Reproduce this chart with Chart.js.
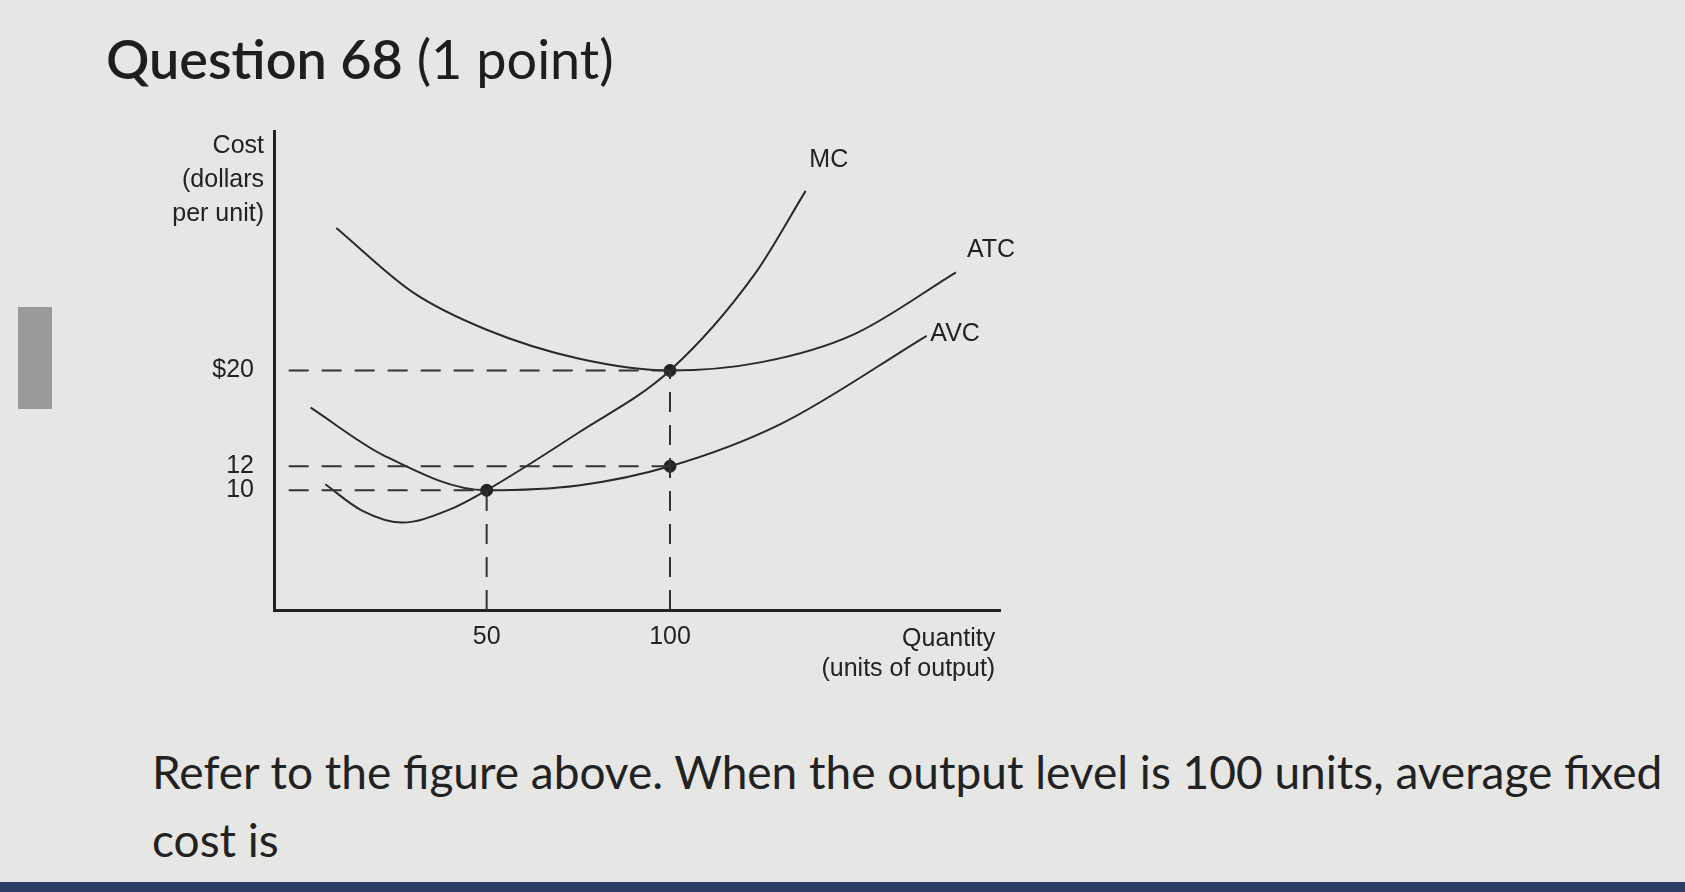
<!DOCTYPE html>
<html>
<head>
<meta charset="utf-8">
<script src="https://cdn.jsdelivr.net/npm/chart.js@4.4.1/dist/chart.umd.min.js"></script>
<style>
  body { margin: 0; width: 1685px; height: 892px; background: #e6e6e4; font-family: Lato, "Open Sans", sans-serif; overflow: hidden; position: relative; }
  #title { position: absolute; left: 106px; top: 26px; font-size: 54px; color: #1e1e1e; }
  #title span { font-weight: normal; }
  #wrap { position: absolute; left: 140px; top: 104px; width: 880px; height: 630px; }
  #q { position: absolute; left: 152px; top: 738px; font-size: 46px; color: #222; line-height: 68px; white-space: nowrap; }
  #bar { position: absolute; left: 18px; top: 307px; width: 34px; height: 102px; background: #9a9a9a; }
  #bottom { position: absolute; left: 0; top: 882px; width: 1685px; height: 10px; background: #2c3e66; }
</style>
</head>
<body>
<div id="title"><b style="font-weight:600">Question 68</b> <span>(1 point)</span></div>
<div id="bar"></div>
<div id="wrap"><canvas id="costChart"></canvas></div>
<div id="q">Refer to the figure above. When the output level is 100 units, average fixed<br>cost is</div>
<div id="bottom"></div>
<script>
// curve values (quantity, dollars)
const atcQ = [9, 30, 50, 75, 100, 125, 150, 178];
const atcY = [31.9, 26.5, 23.4, 21.0, 20.0, 20.7, 23.0, 28.2];
const avcQ = [2, 22, 50, 75, 100, 130, 170];
const avcY = [16.9, 12.9, 10.0, 10.4, 12.0, 15.5, 22.9];
const mcQ = [6, 16, 27, 40, 50, 75, 100, 123, 137];
const mcY = [10.5, 8.3, 7.3, 8.4, 10.0, 14.8, 20.0, 28.0, 35.0];
const yTicks = [10, 12, 20];
const xTicks = [50, 100];
const dots = [[50, 10], [100, 20], [100, 12]];

const toPts = (xs, ys) => xs.map((x, i) => ({ x: x, y: ys[i] }));
const dash = (pts) => ({ data: pts, borderColor: '#333', borderWidth: 2, borderDash: [20, 13], pointRadius: 0, showLine: true, tension: 0 });
const curve = (pts) => ({ data: pts, borderColor: '#2a2a2a', borderWidth: 2, pointRadius: 0, showLine: true, tension: 0.4, cubicInterpolationMode: 'monotone' });

const labelPlugin = {
  id: 'labels',
  afterDraw(chart) {
    const c = chart.ctx, xs = chart.scales.x, ys = chart.scales.y;
    c.save();
    c.fillStyle = '#222';
    c.font = '25px Arial, "Liberation Sans", sans-serif';
    c.textAlign = 'left';
    c.fillText('MC', xs.getPixelForValue(138), ys.getPixelForValue(37));
    c.fillText('ATC', xs.getPixelForValue(181), ys.getPixelForValue(29.5));
    c.fillText('AVC', xs.getPixelForValue(171), ys.getPixelForValue(22.5));
    c.textAlign = 'right';
    const ax = xs.left - 10;
    c.fillText('Cost', ax, ys.top + 22);
    c.fillText('(dollars', ax, ys.top + 56);
    c.fillText('per unit)', ax, ys.top + 90);
    c.textAlign = 'center';
    c.fillText('Quantity', xs.getPixelForValue(176), ys.bottom + 36);
    c.fillText('(units of output)', xs.getPixelForValue(165), ys.bottom + 66);
    c.restore();
  }
};

new Chart(document.getElementById('costChart'), {
  type: 'scatter',
  data: {
    datasets: [
      dash([{ x: -4, y: 20 }, { x: 100, y: 20 }]),
      dash([{ x: -4, y: 12 }, { x: 100, y: 12 }]),
      dash([{ x: -4, y: 10 }, { x: 50, y: 10 }]),
      dash([{ x: 50, y: 0 }, { x: 50, y: 10 }]),
      dash([{ x: 100, y: 0 }, { x: 100, y: 20 }]),
      curve(toPts(atcQ, atcY)),
      curve(toPts(avcQ, avcY)),
      curve(toPts(mcQ, mcY)),
      { data: dots.map(d => ({ x: d[0], y: d[1] })), pointRadius: 6, pointBackgroundColor: '#222', pointBorderColor: '#222', showLine: false }
    ]
  },
  options: {
    responsive: true,
    maintainAspectRatio: false,
    animation: false,
    layout: { padding: { left: 0, right: 20, top: 0, bottom: 70 } },
    plugins: { legend: { display: false }, tooltip: { enabled: false } },
    scales: {
      x: {
        type: 'linear', min: -8, max: 190,
        afterBuildTicks: (s) => { s.ticks = xTicks.map(v => ({ value: v })); },
        border: { color: '#222', width: 3 },
        grid: { display: false, drawTicks: false },
        ticks: { color: '#222', font: { size: 25, family: 'Arial' }, padding: 12 }
      },
      y: {
        min: 0, max: 40,
        afterFit: (s) => { s.width = 134; },
        afterBuildTicks: (s) => { s.ticks = yTicks.map(v => ({ value: v })); },
        border: { color: '#222', width: 3 },
        grid: { display: false, drawTicks: true, tickLength: 8, tickColor: '#222' },
        ticks: { color: '#222', font: { size: 25, family: 'Arial' }, padding: 12, callback: (v) => v === 20 ? '$20' : String(v) }
      }
    }
  },
  plugins: [labelPlugin]
});
</script>
</body>
</html>
